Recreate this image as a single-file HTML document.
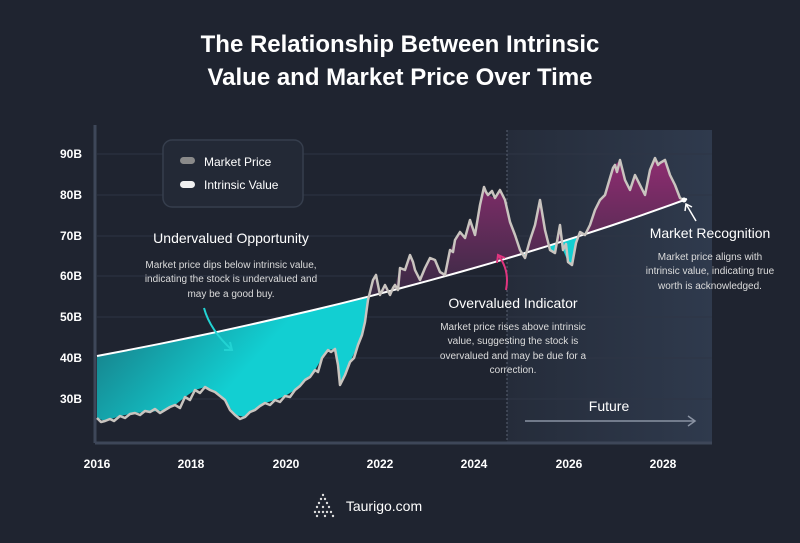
<!DOCTYPE html>
<html><head><meta charset="utf-8"><style>
html,body{margin:0;padding:0;background:#1f2430;}
body{width:800px;height:538px;overflow:hidden;font-family:"Liberation Sans",sans-serif;}
</style></head><body>
<svg width="800" height="538" viewBox="0 0 800 538" xmlns="http://www.w3.org/2000/svg" font-family="Liberation Sans, sans-serif">
<defs>
<linearGradient id="fut" x1="0" y1="0" x2="1" y2="0"><stop offset="0" stop-color="#252c3a"/><stop offset="1" stop-color="#2f3a4d"/></linearGradient>
<linearGradient id="teal" gradientUnits="userSpaceOnUse" x1="100" y1="330" x2="200" y2="420"><stop offset="0" stop-color="#177f89"/><stop offset="1" stop-color="#12cfd2"/></linearGradient>
<linearGradient id="pur" gradientUnits="userSpaceOnUse" x1="0" y1="160" x2="0" y2="300"><stop offset="0" stop-color="#8d2d70"/><stop offset="1" stop-color="#352a42"/></linearGradient>
<clipPath id="below"><polygon points="97,356 130,349.7 160,343.8 190,337.6 220,331.3 250,324.7 280,317.9 310,310.9 340,303.7 370,296.2 400,288.4 430,280.3 460,272 490,263.4 520,254.5 550,245.3 580,235.8 610,226 640,215.8 670,205.2 690,198 690,450 97,450"/></clipPath>
<clipPath id="above"><polygon points="97,356 130,349.7 160,343.8 190,337.6 220,331.3 250,324.7 280,317.9 310,310.9 340,303.7 370,296.2 400,288.4 430,280.3 460,272 490,263.4 520,254.5 550,245.3 580,235.8 610,226 640,215.8 670,205.2 690,198 690,120 97,120"/></clipPath>
</defs>
<rect x="507" y="130" width="205" height="313" fill="url(#fut)"/>
<g stroke="#2e3545" stroke-width="1">
<line x1="97" y1="154" x2="712" y2="154"/><line x1="97" y1="195" x2="712" y2="195"/><line x1="97" y1="236" x2="712" y2="236"/><line x1="97" y1="276" x2="712" y2="276"/><line x1="97" y1="317" x2="712" y2="317"/><line x1="97" y1="358" x2="712" y2="358"/><line x1="97" y1="399" x2="712" y2="399"/>
</g>
<line x1="507" y1="130" x2="507" y2="443" stroke="#5a6272" stroke-dasharray="2,2"/>
<line x1="95" y1="125" x2="95" y2="443" stroke="#3e4759" stroke-width="3"/>
<line x1="95" y1="443" x2="712" y2="443" stroke="#3e4759" stroke-width="3"/>
<g fill="#fff" font-size="12" font-weight="bold" text-anchor="end">
<text x="82" y="158">90B</text><text x="82" y="199">80B</text><text x="82" y="240">70B</text><text x="82" y="280">60B</text><text x="82" y="321">50B</text><text x="82" y="362">40B</text><text x="82" y="403">30B</text>
</g>
<g fill="#fff" font-size="12" font-weight="bold" text-anchor="middle">
<text x="97" y="468">2016</text><text x="191" y="468">2018</text><text x="286" y="468">2020</text><text x="380" y="468">2022</text><text x="474" y="468">2024</text><text x="569" y="468">2026</text><text x="663" y="468">2028</text>
</g>
<polygon clip-path="url(#below)" fill="url(#teal)" points="97,418 105,421 120,416 135,413 150,412 165,410 175,405 185,397 195,390 205,387 215,392 225,400 235,415 245,417 255,410 265,403 275,400 285,396 295,390 305,380 315,370 322,358 328,350 335,349 338,365 340,385 345,375 350,362 358,345 365,322 368,300 373,280 376,275 380,295 385,285 390,295 395,285 400,268 405,270 410,255 415,270 420,280 425,268 430,258 435,260 440,272 445,275 450,250 455,240 460,232 465,238 470,220 475,235 480,205 484,187 488,195 495,198 500,190 505,200 510,222 515,235 520,250 525,258 530,240 535,225 540,200 545,230 550,250 555,253 560,225 563,250 568,262 572,265 576,243 580,232 585,235 590,225 595,210 600,200 605,195 610,178 615,165 620,160 625,180 630,190 635,175 640,185 645,195 650,170 655,158 660,163 665,160 670,175 675,185 680,198 684,200 690,198 670,205.2 640,215.8 610,226 580,235.8 550,245.3 520,254.5 490,263.4 460,272 430,280.3 400,288.4 370,296.2 340,303.7 310,310.9 280,317.9 250,324.7 220,331.3 190,337.6 160,343.8 130,349.7 97,356"/>
<polygon clip-path="url(#above)" fill="url(#pur)" points="97,418 105,421 120,416 135,413 150,412 165,410 175,405 185,397 195,390 205,387 215,392 225,400 235,415 245,417 255,410 265,403 275,400 285,396 295,390 305,380 315,370 322,358 328,350 335,349 338,365 340,385 345,375 350,362 358,345 365,322 368,300 373,280 376,275 380,295 385,285 390,295 395,285 400,268 405,270 410,255 415,270 420,280 425,268 430,258 435,260 440,272 445,275 450,250 455,240 460,232 465,238 470,220 475,235 480,205 484,187 488,195 495,198 500,190 505,200 510,222 515,235 520,250 525,258 530,240 535,225 540,200 545,230 550,250 555,253 560,225 563,250 568,262 572,265 576,243 580,232 585,235 590,225 595,210 600,200 605,195 610,178 615,165 620,160 625,180 630,190 635,175 640,185 645,195 650,170 655,158 660,163 665,160 670,175 675,185 680,198 684,200 690,198 670,205.2 640,215.8 610,226 580,235.8 550,245.3 520,254.5 490,263.4 460,272 430,280.3 400,288.4 370,296.2 340,303.7 310,310.9 280,317.9 250,324.7 220,331.3 190,337.6 160,343.8 130,349.7 97,356"/>
<polyline fill="none" stroke="#fff" stroke-width="2" points="97,356 130,349.7 160,343.8 190,337.6 220,331.3 250,324.7 280,317.9 310,310.9 340,303.7 370,296.2 400,288.4 430,280.3 460,272 490,263.4 520,254.5 550,245.3 580,235.8 610,226 640,215.8 670,205.2 687,199"/>
<polyline fill="none" stroke="#c9c4bf" stroke-width="2.5" stroke-linejoin="round" points="97,418 101,422 105,421 110,419 114,421 120,416 125,418 130,414 135,413 140,415 145,411 150,412 155,409 160,413 165,410 170,407 175,405 180,408 185,397 190,400 195,390 200,393 205,387 210,390 215,392 220,396 225,400 230,410 235,415 240,419 245,417 250,412 255,410 260,406 265,403 270,405 275,400 280,402 285,396 290,397 295,390 300,386 305,380 310,377 315,370 318,372 322,358 328,350 331,352 335,349 338,365 340,385 345,375 350,362 354,358 358,345 362,335 365,322 368,300 373,280 376,275 380,295 385,285 390,295 393,288 395,285 398,290 400,268 405,270 410,255 413,262 415,270 420,280 425,268 430,258 435,260 440,272 445,275 450,250 453,252 455,240 460,232 465,238 470,220 475,235 480,205 484,187 486,192 488,195 492,191 495,198 500,190 505,200 510,222 515,235 520,250 525,258 530,240 535,225 540,200 545,230 550,250 555,253 560,225 563,250 566,244 568,262 572,265 576,243 580,232 585,235 590,225 595,210 600,200 605,195 610,178 613,168 615,165 617,172 620,160 625,180 630,190 635,175 640,185 645,195 650,170 655,158 658,165 660,163 665,160 670,175 675,185 680,198 684,200"/>
<circle cx="684" cy="200" r="2.5" fill="#fff"/>
<rect x="163" y="140" width="140" height="67" rx="9" fill="#232936" stroke="#363e4d" stroke-width="1.5"/>
<rect x="180" y="157" width="15" height="7" rx="3.5" fill="#8a8a8a"/>
<rect x="180" y="181" width="15" height="7" rx="3.5" fill="#f0f0f0"/>
<text x="204" y="166" fill="#fff" font-size="12">Market Price</text>
<text x="204" y="189" fill="#fff" font-size="12">Intrinsic Value</text>
<text x="400" y="52" fill="#fff" font-size="24" font-weight="bold" text-anchor="middle">The Relationship Between Intrinsic</text>
<text x="400" y="85" fill="#fff" font-size="24" font-weight="bold" text-anchor="middle">Value and Market Price Over Time</text>
<g text-anchor="middle">
<text x="231" y="243" fill="#fff" font-size="14">Undervalued Opportunity</text>
<text x="231" y="268" fill="#dcdcdc" font-size="10">Market price dips below intrinsic value,</text>
<text x="231" y="282" fill="#dcdcdc" font-size="10">indicating the stock is undervalued and</text>
<text x="231" y="297" fill="#dcdcdc" font-size="10">may be a good buy.</text>
<text x="513" y="308" fill="#fff" font-size="14">Overvalued Indicator</text>
<text x="513" y="330" fill="#dcdcdc" font-size="10">Market price rises above intrinsic</text>
<text x="513" y="344" fill="#dcdcdc" font-size="10">value, suggesting the stock is</text>
<text x="513" y="359" fill="#dcdcdc" font-size="10">overvalued and may be due for a</text>
<text x="513" y="373" fill="#dcdcdc" font-size="10">correction.</text>
<text x="710" y="238" fill="#fff" font-size="14">Market Recognition</text>
<text x="710" y="260" fill="#dcdcdc" font-size="10">Market price aligns with</text>
<text x="710" y="274" fill="#dcdcdc" font-size="10">intrinsic value, indicating true</text>
<text x="710" y="289" fill="#dcdcdc" font-size="10">worth is acknowledged.</text>
<text x="609" y="411" fill="#fff" font-size="14">Future</text>
<text x="384" y="511" fill="#fff" font-size="14">Taurigo.com</text>
</g>
<line x1="525" y1="421" x2="695" y2="421" stroke="#8a93a3" stroke-width="1.5"/>
<polyline points="688,416 695,421 688,426" fill="none" stroke="#8a93a3" stroke-width="1.5"/>
<path d="M204,308 Q210,330 232,350" fill="none" stroke="#22d3d3" stroke-width="2"/>
<polyline points="224,350 232,350 230,342" fill="none" stroke="#22d3d3" stroke-width="2"/>
<path d="M506,290 Q510,270 498,255" fill="none" stroke="#e0357f" stroke-width="2"/>
<polyline points="497,263 498,255 505,258" fill="none" stroke="#e0357f" stroke-width="2"/>
<line x1="696" y1="221" x2="686" y2="204" stroke="#fff" stroke-width="1.5"/>
<polyline points="685,211 686,204 692,207" fill="none" stroke="#fff" stroke-width="1.5"/>
<g fill="#ddd">
<circle cx="323" cy="495" r="1.2"/><circle cx="321" cy="499" r="1.2"/><circle cx="325" cy="499" r="1.2"/><circle cx="319" cy="503" r="1.2"/><circle cx="327" cy="503" r="1.2"/><circle cx="317" cy="507" r="1.2"/><circle cx="323" cy="507" r="1.2"/><circle cx="329" cy="507" r="1.2"/><circle cx="315" cy="512" r="1.2"/><circle cx="319" cy="512" r="1.2"/><circle cx="323" cy="512" r="1.2"/><circle cx="327" cy="512" r="1.2"/><circle cx="331" cy="512" r="1.2"/><circle cx="325" cy="516" r="1.2"/><circle cx="317" cy="516" r="1.2"/><circle cx="333" cy="516" r="1.2"/>
</g>
</svg>
</body></html>
